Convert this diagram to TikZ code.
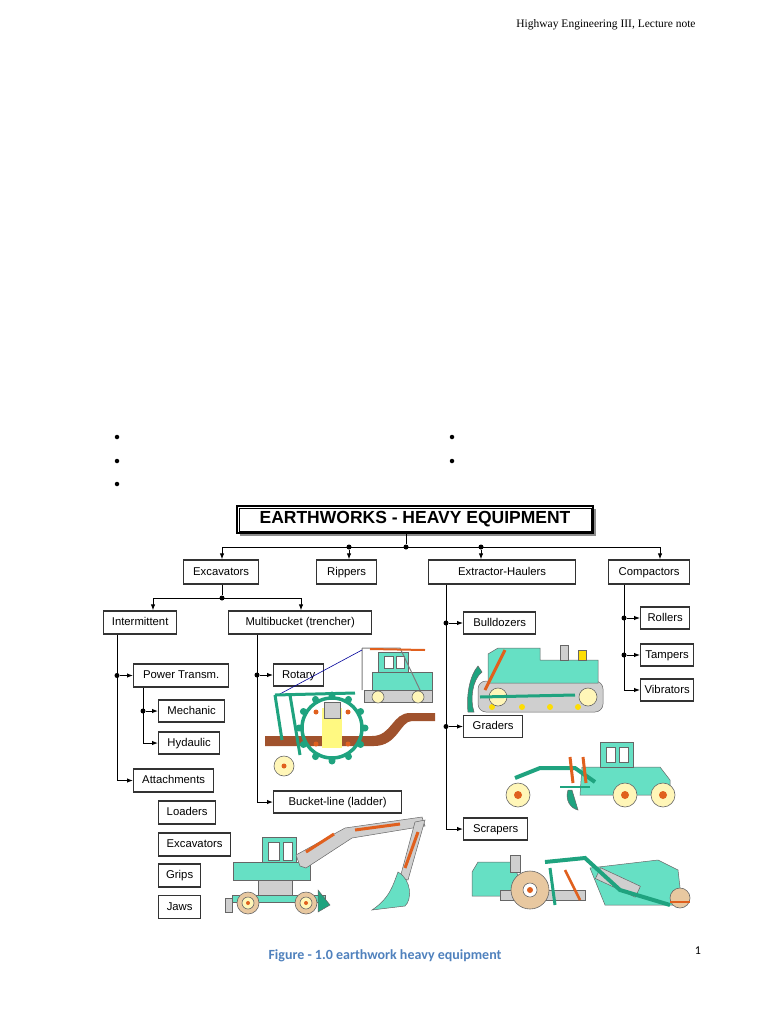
\documentclass[tikz,border=0pt]{standalone}
\usepackage{fontspec}
\setmainfont{Liberation Sans}
\newfontfamily\serifhdr{Liberation Serif}
\newfontfamily\capfont{Carlito}
\usetikzlibrary{arrows.meta,calc}
\definecolor{teal1}{HTML}{66E0C4}
\definecolor{dgreen}{HTML}{1FA37F}
\definecolor{orng}{HTML}{E0601E}
\definecolor{gry}{HTML}{CFCFCF}
\definecolor{brwn}{HTML}{A0522D}
\definecolor{cream}{HTML}{FFF6B8}
\definecolor{tan1}{HTML}{E8C8A0}
\definecolor{capblue}{HTML}{4F81BD}
\begin{document}
\begin{tikzpicture}[x=1pt,y=-1pt,
  bx/.style={draw=black!80,line width=1.3pt,fill=white,inner sep=0pt,font=\fontsize{11.3}{13}\selectfont,text height=8.5pt,text depth=2.5pt,anchor=west},
  ln/.style={line width=1pt,black},
  arr/.style={ln,-{Latex[length=6pt,width=4.5pt]}},
  dot/.style={circle,fill=black,inner sep=0pt,minimum size=5pt},
  mach/.style={draw=black!60,line width=0.5pt},
  wheel/.style={draw=black!60,line width=0.6pt,fill=cream}]
\useasboundingbox (0,0) rectangle (768,1024);
\node[font=\serifhdr\fontsize{11.5}{13}\selectfont] (hdr) at (606,25) {Highway Engineering III, Lecture note};
\foreach \y [count=\i] in {437,461,484} \node[circle,fill=black,inner sep=0pt,minimum size=4.5pt] (bl\i) at (117,\y) {};
\foreach \y [count=\i] in {437,461} \node[circle,fill=black,inner sep=0pt,minimum size=4.5pt] (br\i) at (452,\y) {};
% title
\fill[black!45] (240,509) rectangle (596,536);
\node[draw=black,line width=1.6pt,fill=white,minimum width=356pt,minimum height=27pt,inner sep=0pt,font=\bfseries\fontsize{17.5}{19}\selectfont] (title) at (415,519.5) {EARTHWORKS - HEAVY EQUIPMENT};
\draw[black,line width=0.6pt] (239,508) rectangle (591,531);
% level 1
\node[bx,minimum width=75pt,minimum height=24pt] (exc) at (183,572) {Excavators};
\node[bx,minimum width=60pt,minimum height=24pt] (rip) at (316,572) {Rippers};
\node[bx,minimum width=147pt,minimum height=24pt] (ext) at (428,572) {Extractor-Haulers};
\node[bx,minimum width=81pt,minimum height=24pt] (com) at (608,572) {Compactors};
\coordinate (busL) at (222,547); \coordinate (busR) at (660,547);
\node[dot] (d0) at (406,547) {}; \node[dot] (d1) at (349,547) {}; \node[dot] (d2) at (481,547) {};
\draw[ln] (title.south -| d0) -- (d0);
\draw[ln] (busL) -- (busR);
\draw[arr] (busL) -- (exc.north -| busL);
\draw[arr] (d1) -- (rip.north -| d1);
\draw[arr] (d2) -- (ext.north -| d2);
\draw[arr] (busR) -- (com.north -| busR);
% excavators subtree
\node[bx,minimum width=73pt,minimum height=23pt] (int) at (103,622.5) {Intermittent};
\node[bx,minimum width=143pt,minimum height=23pt] (mul) at (228,622.5) {Multibucket (trencher)};
\node[dot] (d3) at (222,598) {};
\coordinate (eL) at (153,598); \coordinate (eR) at (301,598);
\draw[ln] (exc.south -| d3) -- (d3);
\draw[ln] (eL) -- (eR);
\draw[arr] (eL) -- (int.north -| eL);
\draw[arr] (eR) -- (mul.north -| eR);
\node[bx,minimum width=95pt,minimum height=23pt] (pow) at (133,675.5) {Power Transm.};
\node[bx,minimum width=66pt,minimum height=22pt] (mec) at (158,711) {Mechanic};
\node[bx,minimum width=61pt,minimum height=22pt] (hyd) at (158,743) {Hydaulic};
\node[bx,minimum width=80pt,minimum height=23pt] (att) at (133,780.5) {Attachments};
\node[bx,minimum width=57pt,minimum height=23pt] (loa) at (158,812.5) {Loaders};
\node[bx,minimum width=72pt,minimum height=23pt] (ex2) at (158,844.5) {Excavators};
\node[bx,minimum width=42pt,minimum height=23pt] (gri) at (158,875.5) {Grips};
\node[bx,minimum width=42pt,minimum height=23pt] (jaw) at (158,907) {Jaws};
\node[dot] (d4) at (117,675.5) {};
\coordinate (c1) at (117,780.5);
\draw[ln] (int.south -| c1) -- (c1);
\draw[arr] (c1) -- (att.west);
\draw[arr] (d4) -- (pow.west);
\node[dot] (d5) at (143,711) {};
\coordinate (c2) at (143,743);
\draw[ln] (pow.south -| c2) -- (c2);
\draw[arr] (d5) -- (mec.west);
\draw[arr] (c2) -- (hyd.west);
\node[bx,minimum width=50pt,minimum height=22pt] (rot) at (273,675) {Rotary};
\node[bx,minimum width=128pt,minimum height=22pt] (buc) at (273,802) {Bucket-line (ladder)};
\node[dot] (d6) at (257,675) {};
\coordinate (c3) at (257,802);
\draw[ln] (mul.south -| c3) -- (c3);
\draw[arr] (d6) -- (rot.west);
\draw[arr] (c3) -- (buc.west);
% extractor subtree
\node[bx,minimum width=72pt,minimum height=22pt] (bul) at (463,623) {Bulldozers};
\node[bx,minimum width=59pt,minimum height=22pt] (gra) at (463,726.5) {Graders};
\node[bx,minimum width=64pt,minimum height=22pt] (scr) at (463,829) {Scrapers};
\node[dot] (d7) at (446,623) {}; \node[dot] (d8) at (446,726.5) {};
\coordinate (c4) at (446,829);
\draw[ln] (ext.south -| c4) -- (c4);
\draw[arr] (d7) -- (bul.west);
\draw[arr] (d8) -- (gra.west);
\draw[arr] (c4) -- (scr.west);
% compactors subtree
\node[bx,minimum width=49pt,minimum height=22pt] (rol) at (640,618) {Rollers};
\node[bx,minimum width=53pt,minimum height=22pt] (tam) at (640,655) {Tampers};
\node[bx,minimum width=53pt,minimum height=22pt] (vib) at (640,690) {Vibrators};
\node[dot] (d9) at (624,618) {}; \node[dot] (d10) at (624,655) {};
\coordinate (c5) at (624,690);
\draw[ln] (com.south -| c5) -- (c5);
\draw[arr] (d9) -- (rol.west);
\draw[arr] (d10) -- (tam.west);
\draw[arr] (c5) -- (vib.west);
% ===== trencher =====
\fill[brwn] (265,736) -- (372,736) .. controls (392,736) and (392,713) .. (410,713) -- (435,713) -- (435,721) -- (412,721) .. controls (400,721) and (398,746) .. (374,746) -- (265,746) -- cycle;
\draw[mach,fill=gry] (364,690) rectangle (432,702);
\draw[mach,fill=teal1] (372,672) rectangle (432,690);
\draw[mach,fill=teal1] (378,652) rectangle (408,672);
\draw[mach,fill=white] (384,656) rectangle (393,668); \draw[mach,fill=white] (396,656) rectangle (404,668);
\draw[line width=1pt,gry!60!black] (362,648) -- (362,690) (362,648) -- (400,648) -- (420,690);
\draw[line width=2pt,orng] (370,649) -- (425,650);
\draw[blue!60!black,line width=0.6pt] (362,650) -- (278,695);
\foreach \x in {378,418} \draw[wheel] (\x,697) circle (6);
\draw[line width=2pt,dgreen] (340,740) -- (332,704);
\foreach \a in {0,30,...,330} \fill[dgreen] ($(332,728)+(\a:33)$) circle (3.5);
\draw[dgreen,line width=3.5pt] (332,728) circle (30);
\fill[cream!70!yellow] (322,708) rectangle (342,748);
\draw[mach,fill=gry] (324,702) rectangle (340,718);
\draw[line width=3pt,dgreen] (275,695) -- (355,693) (290,695) -- (300,755) (275,695) -- (282,740);
\draw[wheel] (284,766) circle (10); \fill[orng] (284,766) circle (2.5);
\foreach \p in {(316,712),(348,712),(316,744),(348,744)} \fill[orng] \p circle (2.5);
% ===== excavator =====
\draw[mach,fill=gry] (258,880) rectangle (292,895);
\draw[mach,fill=teal1] (233,862) rectangle (310,880);
\draw[mach,fill=teal1] (262,837) rectangle (296,862);
\draw[mach,fill=white] (268,842) rectangle (279,860); \draw[mach,fill=white] (283,842) rectangle (292,860);
\draw[mach,fill=teal1] (232,895) rectangle (325,902);
\draw[mach,fill=gry] (225,898) rectangle (232,912);
\draw[mach,fill=dgreen] (318,890) -- (330,905) -- (318,912) -- cycle;
\foreach \x in {248,306} {\draw[wheel,fill=tan1] (\x,903) circle (11); \draw[wheel] (\x,903) circle (6); \fill[orng] (\x,903) circle (2);}
\draw[mach,fill=gry] (300,866) -- (296,855) -- (345,828) -- (422,817) -- (425,826) -- (352,838) -- (306,868) -- cycle;
\draw[mach,fill=gry] (415,822) -- (425,820) -- (408,880) -- (400,878) -- cycle;
\draw[line width=3pt,orng] (306,852) -- (334,834) (355,830) -- (400,824) (418,832) -- (405,868);
\draw[mach,fill=teal1] (398,872) .. controls (412,880) and (412,900) .. (405,906) -- (372,910) .. controls (390,898) and (393,885) .. cycle;
% ===== bulldozer =====
\draw[mach,fill=gry,rounded corners=8pt] (478,681) rectangle (603,712);
\draw[mach,fill=teal1] (488,654) -- (498,648) -- (540,648) -- (540,660) -- (598,660) -- (598,683) -- (488,683) -- cycle;
\draw[mach,fill=gry] (560,645) rectangle (568,660);
\draw[mach,fill=yellow!80!orange] (578,650) rectangle (586,660);
\foreach \x in {492,522,550,578} \fill[yellow!80!orange] (\x,707) circle (3);
\draw[wheel] (498,697) circle (9); \draw[wheel] (588,697) circle (9);
\draw[line width=3pt,dgreen] (480,697) -- (575,695);
\draw[line width=3pt,orng] (485,690) -- (505,650);
\draw[mach,fill=dgreen] (482,672) .. controls (472,680) and (470,700) .. (474,712) -- (468,712) .. controls (466,695) and (470,675) .. (478,666) -- cycle;
% ===== grader =====
\draw[mach,fill=teal1] (582,767) -- (660,767) -- (670,780) -- (670,795) -- (580,795) -- cycle;
\draw[mach,fill=teal1] (600,742) rectangle (633,767);
\draw[mach,fill=white] (606,747) rectangle (615,762); \draw[mach,fill=white] (619,747) rectangle (628,762);
\draw[line width=4pt,dgreen] (515,778) -- (540,768) -- (575,768) -- (595,782);
\draw[line width=2.5pt,dgreen] (560,787) -- (590,787);
\draw[line width=3pt,orng] (570,757) -- (573,783) (583,757) -- (586,783);
\draw[mach,fill=dgreen] (568,790) .. controls (565,800) and (570,808) .. (578,810) -- (572,790) -- cycle;
\foreach \x in {518,625,663} {\draw[wheel] (\x,795) circle (12); \fill[orng] (\x,795) circle (4);}
% ===== scraper =====
\draw[mach,fill=teal1] (472,872) -- (478,862) -- (512,862) -- (520,880) -- (520,896) -- (472,896) -- cycle;
\draw[mach,fill=gry] (510,855) rectangle (520,872);
\draw[mach,fill=gry] (500,890) rectangle (585,900);
\draw[wheel,fill=tan1] (530,890) circle (19); \draw[wheel,fill=white] (530,890) circle (7); \fill[orng] (530,890) circle (3);
\draw[mach,fill=teal1] (590,868) -- (658,860) -- (678,870) -- (682,905) -- (605,905) -- cycle;
\draw[mach,fill=gry,rotate around={-25:(608,880)}] (596,872) rectangle (640,884);
\draw[line width=4pt,dgreen] (545,862) -- (585,858) -- (620,890) -- (670,905);
\draw[line width=3pt,dgreen] (550,868) -- (555,905);
\draw[line width=2.5pt,orng] (565,870) -- (580,900);
\draw[wheel,fill=tan1] (680,898) circle (10);
\draw[line width=2pt,orng] (670,902) -- (690,902);
% caption
\node[font=\capfont\bfseries\fontsize{14}{16}\selectfont,text=capblue] (cap) at (385,956) {Figure - 1.0 earthwork heavy equipment};
\node[font=\capfont\fontsize{12}{14}\selectfont] (pg) at (698,951) {1};
\end{tikzpicture}
\end{document}
